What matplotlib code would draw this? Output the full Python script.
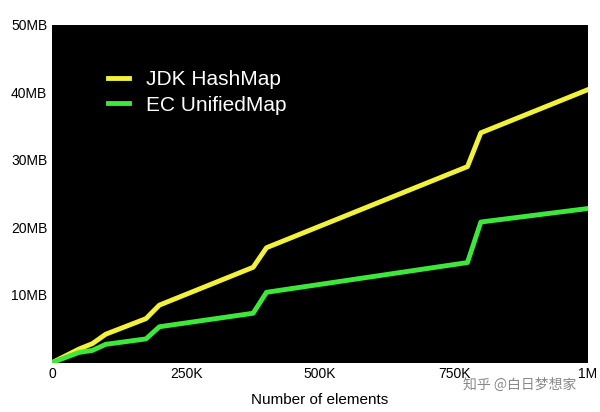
import matplotlib.pyplot as plt

plt.rcParams['font.family'] = ['Liberation Sans', 'Noto Sans CJK SC']

# elements (thousands) and memory (MB)
elements = [0, 50, 75, 100, 175, 200, 375, 400, 775, 800, 1000]
jdk_hashmap = [0, 2.0, 2.8, 4.2, 6.5, 8.5, 14.1, 17.0, 29.0, 34.0, 40.4]
ec_unifiedmap = [0, 1.5, 1.8, 2.7, 3.5, 5.3, 7.3, 10.4, 14.8, 20.8, 22.8]

x_ticks = [0, 250, 500, 750, 1000]
x_labels = ['0', '250K', '500K', '750K', '1M']
y_ticks = [10, 20, 30, 40, 50]
y_labels = ['10MB', '20MB', '30MB', '40MB', '50MB']

fig = plt.figure(figsize=(6.0, 4.12), dpi=100)
ax = fig.add_axes([0.087, 0.12, 0.893, 0.82])
ax.set_facecolor('black')

ax.plot(elements, jdk_hashmap, color='#f2f23a', lw=3.5, label='JDK HashMap', solid_joinstyle='round')
ax.plot(elements, ec_unifiedmap, color='#3ee83a', lw=3.5, label='EC UnifiedMap', solid_joinstyle='round')

ax.set_xlim(0, 1000)
ax.set_ylim(0, 50)
ax.set_xticks(x_ticks, x_labels)
ax.set_yticks(y_ticks, y_labels)
ax.tick_params(length=0, labelsize=10)
for s in ax.spines.values():
    s.set_visible(False)
ax.set_xlabel('Number of elements', fontsize=11, labelpad=8)

leg = ax.legend(loc='upper left', bbox_to_anchor=(0.07, 0.92), frameon=False,
                fontsize=15, handlelength=1.0, labelspacing=0.3)
for t in leg.get_texts():
    t.set_color('white')

fig.text(0.96, 0.05, '知乎 @白日梦想家', ha='right', va='bottom', fontsize=10,
         color='#888888', family=['Noto Sans CJK SC', 'DejaVu Sans'])

fig.savefig('out.png')
